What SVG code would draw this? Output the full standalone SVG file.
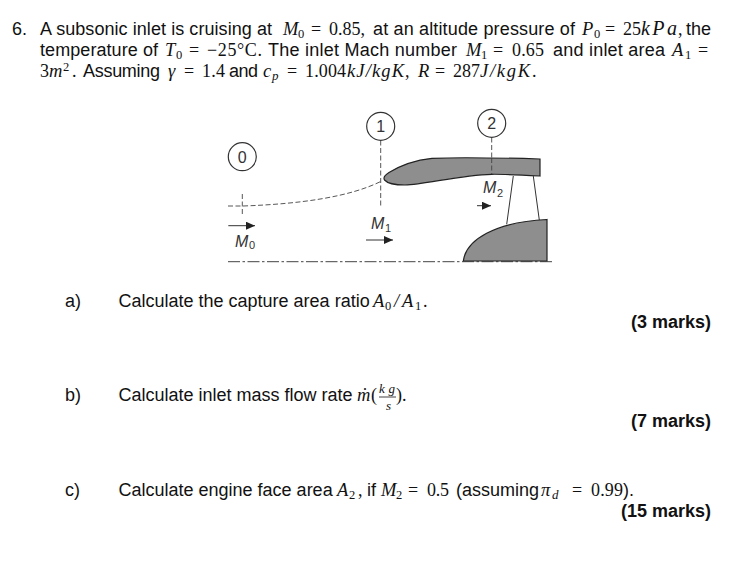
<svg xmlns="http://www.w3.org/2000/svg" width="733" height="569" viewBox="0 0 733 569">
<style>
text{fill:#111}
.t{font:18px "Liberation Sans",Arial,sans-serif}
.b{font:bold 18px "Liberation Sans",Arial,sans-serif}
.m{font:18px "Liberation Serif","Times New Roman",serif}
.i{font:italic 18.5px "Liberation Serif","Times New Roman",serif}
.s{font:12.5px "Liberation Serif","Times New Roman",serif}
.si{font:italic 13px "Liberation Serif","Times New Roman",serif}
.d{font:16px "Liberation Sans",Arial,sans-serif;fill:#333}
.ds{font:11px "Liberation Sans",Arial,sans-serif;fill:#333}
.di{font:italic 16px "Liberation Sans",Arial,sans-serif;fill:#333}
.c{fill:#fff;stroke:#333;stroke-width:1.2}
.g{fill:#8e8e8e;stroke:#222;stroke-width:1.2}
.l{fill:none;stroke:#333;stroke-width:1}
.da{fill:none;stroke:#444;stroke-width:.9;stroke-dasharray:5 2.5}
</style>
<defs><marker id="ah" markerUnits="userSpaceOnUse" markerWidth="10" markerHeight="8" refX="9" refY="4" orient="auto"><path d="M0 0L9 4L0 8z" fill="#222"/></marker></defs>
<rect width="733" height="569" fill="#fff"/>
<g id="question">
<text class="t" x="12" y="35">6.</text>
<text class="t" x="40" y="35" textLength="232">A subsonic inlet is cruising at</text>
<text class="i" x="283" y="35">M</text><text class="s" x="298" y="38">0</text>
<text class="m" x="311" y="35">=</text><text class="m" x="329" y="35" textLength="36">0.85,</text>
<text class="t" x="373" y="35" textLength="202">at an altitude pressure of</text>
<text class="i" x="582" y="35">P</text><text class="s" x="594" y="38">0</text>
<text class="m" x="605" y="35">=</text><text class="m" x="623" y="35" textLength="18">25</text><text class="i" x="641" y="35" style="font-size:20px" textLength="36">kPa</text><text class="m" x="678" y="35">,</text>
<text class="t" x="686" y="35">the</text>
<text class="t" x="40" y="56" textLength="118">temperature of</text>
<text class="i" x="165" y="56">T</text><text class="s" x="176" y="59">0</text>
<text class="m" x="189" y="56">=</text><text class="m" x="207" y="56" textLength="55">−25°C.</text>
<text class="t" x="268" y="56" textLength="189">The inlet Mach number</text>
<text class="i" x="466" y="56">M</text><text class="s" x="481" y="59">1</text>
<text class="m" x="493" y="56">=</text><text class="m" x="512" y="56" textLength="32">0.65</text>
<text class="t" x="553" y="56" textLength="112">and inlet area</text>
<text class="i" x="672" y="56">A</text><text class="s" x="685" y="59">1</text>
<text class="m" x="698" y="56">=</text>
<text class="m" x="40" y="77">3</text><text class="i" x="49" y="77">m</text><text class="s" x="63" y="71">2</text><text class="m" x="72" y="77">.</text>
<text class="t" x="83" y="77" textLength="77">Assuming</text>
<text class="i" x="168" y="77">γ</text><text class="m" x="184" y="77">=</text><text class="m" x="202" y="77" textLength="23">1.4</text>
<text class="t" x="229" y="77" textLength="29">and</text>
<text class="i" x="263" y="77">c</text><text class="si" x="272" y="80">p</text>
<text class="m" x="287" y="77">=</text><text class="m" x="305" y="77" textLength="41">1.004</text><text class="i" x="347" y="77" textLength="57">kJ/kgK</text><text class="m" x="405" y="77">,</text>
<text class="i" x="418" y="77">R</text><text class="m" x="435" y="77">=</text><text class="m" x="453" y="77" textLength="27">287</text><text class="i" x="480" y="77" textLength="50">J/kgK</text><text class="m" x="532" y="77">.</text>
</g>
<g id="connectors">
<path class="da" d="M380.700 140.500V208M491.700 137.500V172"/>
<path class="da" d="M242.300 194V214M228 206H243C300 204 350 197 381.700 181"/>
<path class="l" d="M228.300 225.700H255" marker-end="url(#ah)"/>
<path class="l" d="M366 240H393" marker-end="url(#ah)"/>
<path class="l" d="M477 205.700H491" marker-end="url(#ah)"/>
<path d="M228 261.700H553" fill="none" stroke="#444" stroke-width="1" stroke-dasharray="12 2.500 2.500 2.500"/>
</g>
<g id="nacelle"><path class="g" d="M384.500 180C383 177.500 385 175 389 172.500C401 165 416 160 432 158.300C465 157 505 158 540 159V176C520 175 500 174 491.700 174.300C460 175 425 184.500 405 185C396 185 388 184 384.500 180Z"/>
<path class="da" d="M491.700 158V174"/></g>
<g id="struts"><path class="l" d="M513.300 176L506.700 224.300M533.300 176L539.300 220"/></g>
<g id="hub"><path class="g" d="M463.300 261C466 240 495 222 547 219.500V261Z"/></g>
<g id="node-0"><circle class="c" cx="242.300" cy="156.700" r="14"/><text class="d" x="242.300" y="162.500" text-anchor="middle">0</text></g>
<g id="node-1"><circle class="c" cx="380.700" cy="126.300" r="14"/><text class="d" x="380.700" y="132" text-anchor="middle">1</text></g>
<g id="node-2"><circle class="c" cx="491.700" cy="123.300" r="14"/><text class="d" x="491.700" y="129" text-anchor="middle">2</text></g>
<g id="labels">
<text class="di" x="235" y="246.700">M</text><text class="ds" x="249" y="249">0</text>
<text class="di" x="371" y="229">M</text><text class="ds" x="385" y="232">1</text>
<text class="di" x="483" y="193">M</text><text class="ds" x="497" y="197">2</text>
</g>
<g id="part-a">
<text class="t" x="65" y="307">a)</text>
<text class="t" x="118.500" y="307">Calculate the capture area ratio</text>
<text class="i" x="373" y="307">A</text><text class="s" x="385" y="310">0</text><text class="i" x="394" y="307">/</text><text class="i" x="402" y="307">A</text><text class="s" x="415" y="310">1</text><text class="m" x="423" y="307">.</text>
<text class="b" x="711" y="328" text-anchor="end">(3 marks)</text>
</g>
<g id="part-b">
<text class="t" x="65" y="401">b)</text>
<text class="t" x="118.500" y="401">Calculate inlet mass flow rate</text>
<text class="i" x="357" y="401">ṁ</text><text class="m" x="371" y="401">(</text>
<text class="si" x="379" y="393" textLength="16">kg</text><path d="M379 397H396" stroke="#111" stroke-width=".8"/><text class="si" x="386" y="410">s</text>
<text class="m" x="396" y="401">).</text>
<text class="b" x="711" y="427" text-anchor="end">(7 marks)</text>
</g>
<g id="part-c">
<text class="t" x="65" y="496">c)</text>
<text class="t" x="118.500" y="496">Calculate engine face area</text>
<text class="i" x="337" y="496">A</text><text class="s" x="349" y="499">2</text><text class="m" x="358" y="496">,</text>
<text class="t" x="367" y="496">if</text>
<text class="i" x="381" y="496">M</text><text class="s" x="396" y="499">2</text><text class="m" x="408" y="496">=</text><text class="m" x="427" y="496" textLength="22">0.5</text>
<text class="t" x="456" y="496">(assuming</text>
<text class="i" x="541" y="496">π</text><text class="si" x="552" y="499">d</text>
<text class="m" x="572" y="496">=</text><text class="m" x="591" y="496" textLength="32">0.99</text><text class="t" x="623" y="496">).</text>
<text class="b" x="711" y="517" text-anchor="end">(15 marks)</text>
</g>
</svg>
